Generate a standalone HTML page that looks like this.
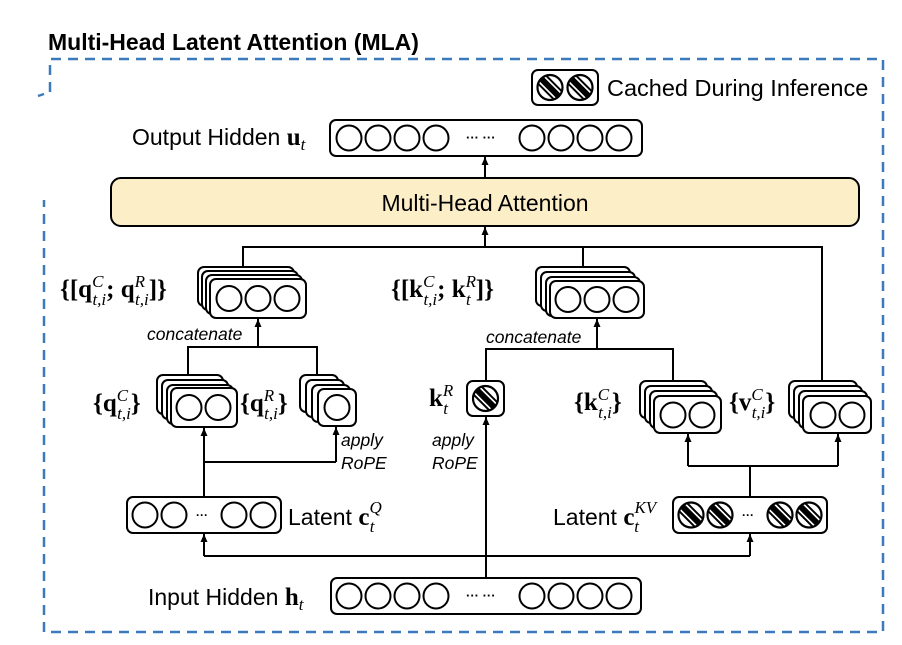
<!DOCTYPE html>
<html><head><meta charset="utf-8">
<style>
html,body{margin:0;padding:0;background:#fff;}
svg{display:block;}
.s{font-family:"Liberation Sans","DejaVu Sans",sans-serif;}
.m{font-family:"Liberation Serif","DejaVu Serif",serif;}
.b{font-weight:bold;}
.i{font-style:italic;}
</style></head><body>
<svg width="902" height="645" viewBox="0 0 902 645" xmlns="http://www.w3.org/2000/svg">
<defs>
  <marker id="ar" markerWidth="9" markerHeight="8" refX="8" refY="4" orient="auto" markerUnits="userSpaceOnUse">
    <path d="M0,0.5 L8,4 L0,7.5 Z" fill="#000"/>
  </marker>
  <clipPath id="cc"><circle cx="0" cy="0" r="12.5"/></clipPath>
  <g id="hc">
    <g clip-path="url(#cc)">
      <line x1="-14" y1="-14" x2="14" y2="14" stroke="#000" stroke-width="6"/>
      <line x1="-14" y1="-6" x2="6" y2="14" stroke="#000" stroke-width="2"/>
      <line x1="-6" y1="-14" x2="14" y2="6" stroke="#000" stroke-width="2"/>
    </g>
    <circle cx="0" cy="0" r="12.5" fill="none" stroke="#000" stroke-width="2.2"/>
  </g>
  <g id="oc"><circle cx="0" cy="0" r="12.5" fill="#fff" stroke="#000" stroke-width="2"/></g>
</defs>

<!-- title -->
<text x="48" y="50" class="s b" font-size="23" fill="#000">Multi-Head Latent Attention (MLA)</text>

<!-- dashed frame -->
<g stroke="#3a7abd" stroke-width="2.5" stroke-dasharray="10,7" fill="none">
  <path d="M50,92 L50,59 L883,59 L883,632 L44,632 L44,200"/>
</g>
<path d="M38,96 L44,94" stroke="#3a7abd" stroke-width="2.5"/>

<!-- cached legend -->
<rect x="532" y="70" width="66" height="35" rx="6" fill="#fff" stroke="#000" stroke-width="2"/>
<use href="#hc" x="550" y="87.5"/>
<use href="#hc" x="580" y="87.5"/>
<text x="607" y="96" class="s" font-size="23.5">Cached During Inference</text>

<!-- output hidden -->
<text x="132" y="145" class="s" font-size="23">Output Hidden <tspan class="m b" font-size="25">u</tspan><tspan class="m i" font-size="17" dy="5">t</tspan></text>
<rect x="330" y="120" width="312" height="36" rx="6" fill="#fff" stroke="#000" stroke-width="2"/>
<use href="#oc" x="349" y="138"/><use href="#oc" x="378" y="138"/><use href="#oc" x="407" y="138"/><use href="#oc" x="436" y="138"/>
<text x="466" y="142" class="s b" font-size="13">··· ···</text>
<use href="#oc" x="532" y="138"/><use href="#oc" x="561" y="138"/><use href="#oc" x="590" y="138"/><use href="#oc" x="619" y="138"/>
<line x1="485" y1="178" x2="485" y2="157" stroke="#000" stroke-width="2" marker-end="url(#ar)"/>

<!-- MHA -->
<rect x="111" y="178" width="748" height="48" rx="10" fill="#fcefc7" stroke="#000" stroke-width="2"/>
<text x="485" y="211" class="s" font-size="23" text-anchor="middle">Multi-Head Attention</text>
<line x1="485" y1="247" x2="485" y2="227" stroke="#000" stroke-width="2" marker-end="url(#ar)"/>
<path d="M243,267 L243,247 L822,247 L822,381" fill="none" stroke="#000" stroke-width="2"/>
<path d="M583,267 L583,247" stroke="#000" stroke-width="2"/>

<!-- Q concat stack -->
<g fill="#fff" stroke="#000" stroke-width="2">
  <rect x="198" y="267" width="96" height="39" rx="6"/>
  <rect x="202" y="271" width="96" height="39" rx="6"/>
  <rect x="206" y="275" width="96" height="39" rx="6"/>
  <rect x="210" y="279" width="96" height="39" rx="6"/>
</g>
<use href="#oc" x="229" y="298.5"/><use href="#oc" x="258" y="298.5"/><use href="#oc" x="287" y="298.5"/>
<text x="60" y="297" class="m b" font-size="25">{[q<tspan class="i" font-weight="normal" font-size="17" dy="-10">C</tspan><tspan class="i" font-weight="normal" font-size="17" dx="-11" dy="18">t,i</tspan><tspan dy="-8">; q</tspan><tspan class="i" font-weight="normal" font-size="17" dy="-10">R</tspan><tspan class="i" font-weight="normal" font-size="17" dx="-10" dy="18">t,i</tspan><tspan dy="-8">]}</tspan></text>

<!-- K concat stack -->
<g fill="#fff" stroke="#000" stroke-width="2">
  <rect x="536" y="267" width="94" height="39" rx="6"/>
  <rect x="541" y="272" width="94" height="39" rx="6"/>
  <rect x="546" y="277" width="94" height="39" rx="6"/>
  <rect x="550" y="281" width="94" height="37" rx="6"/>
</g>
<use href="#oc" x="568" y="299.5"/><use href="#oc" x="597" y="299.5"/><use href="#oc" x="626" y="299.5"/>
<text x="391" y="297" class="m b" font-size="25">{[k<tspan class="i" font-weight="normal" font-size="17" dy="-10">C</tspan><tspan class="i" font-weight="normal" font-size="17" dx="-11" dy="18">t,i</tspan><tspan dy="-8">; k</tspan><tspan class="i" font-weight="normal" font-size="17" dy="-10">R</tspan><tspan class="i" font-weight="normal" font-size="17" dx="-10" dy="18">t</tspan><tspan dx="5" dy="-8">]}</tspan></text>

<!-- concatenate left -->
<text x="147" y="340" class="s i" font-size="17.5">concatenate</text>
<path d="M188,375 L188,347 L317,347 L317,375" fill="none" stroke="#000" stroke-width="2"/>
<line x1="258" y1="347" x2="258" y2="319" stroke="#000" stroke-width="2" marker-end="url(#ar)"/>

<!-- concatenate right -->
<text x="486" y="343" class="s i" font-size="17.5">concatenate</text>
<path d="M486,381 L486,349 L673,349 L673,381" fill="none" stroke="#000" stroke-width="2"/>
<line x1="597" y1="349" x2="597" y2="319" stroke="#000" stroke-width="2" marker-end="url(#ar)"/>

<!-- qC stack -->
<g fill="#fff" stroke="#000" stroke-width="2">
  <rect x="157" y="375" width="66" height="39" rx="6"/>
  <rect x="162" y="380" width="66" height="39" rx="6"/>
  <rect x="167" y="385" width="66" height="39" rx="6"/>
  <rect x="171" y="388" width="66" height="39" rx="6"/>
</g>
<use href="#oc" x="189" y="407.5"/><use href="#oc" x="218" y="407.5"/>
<text x="93" y="411" class="m b" font-size="25">{q<tspan class="i" font-weight="normal" font-size="17" dy="-10">C</tspan><tspan class="i" font-weight="normal" font-size="17" dx="-11" dy="18">t,i</tspan><tspan dy="-8">}</tspan></text>

<!-- qR stack -->
<g fill="#fff" stroke="#000" stroke-width="2">
  <rect x="300" y="375" width="38" height="37" rx="6"/>
  <rect x="306" y="380" width="38" height="37" rx="6"/>
  <rect x="312" y="385" width="38" height="37" rx="6"/>
  <rect x="318" y="389" width="38" height="37" rx="6"/>
</g>
<use href="#oc" x="337" y="407.5"/>
<text x="240" y="411" class="m b" font-size="25">{q<tspan class="i" font-weight="normal" font-size="17" dy="-10">R</tspan><tspan class="i" font-weight="normal" font-size="17" dx="-10" dy="18">t,i</tspan><tspan dy="-8">}</tspan></text>

<path d="M204,497 L204,462 L336,462" fill="none" stroke="#000" stroke-width="2"/>
<line x1="204" y1="462" x2="204" y2="428" stroke="#000" stroke-width="2" marker-end="url(#ar)"/>
<line x1="336" y1="462" x2="336" y2="427" stroke="#000" stroke-width="2" marker-end="url(#ar)"/>
<text x="341" y="446" class="s i" font-size="17.5">apply</text>
<text x="341" y="469" class="s i" font-size="17.5">RoPE</text>

<!-- kR -->
<rect x="467" y="381" width="37" height="35" rx="6" fill="#fff" stroke="#000" stroke-width="2"/>
<use href="#hc" x="485.5" y="398.5"/>
<text x="429" y="406" class="m b" font-size="25">k<tspan class="i" font-weight="normal" font-size="17" dy="-10">R</tspan><tspan class="i" font-weight="normal" font-size="17" dx="-10" dy="18">t</tspan></text>
<text x="432" y="446" class="s i" font-size="17.5">apply</text>
<text x="432" y="469" class="s i" font-size="17.5">RoPE</text>
<line x1="486" y1="578" x2="486" y2="417" stroke="#000" stroke-width="2" marker-end="url(#ar)"/>

<!-- kC stack -->
<g fill="#fff" stroke="#000" stroke-width="2">
  <rect x="640" y="381" width="67" height="37" rx="6"/>
  <rect x="645" y="386" width="67" height="37" rx="6"/>
  <rect x="650" y="391" width="67" height="37" rx="6"/>
  <rect x="654" y="396" width="67" height="37" rx="6"/>
</g>
<use href="#oc" x="673" y="415"/><use href="#oc" x="702" y="415"/>
<text x="574" y="410" class="m b" font-size="25">{k<tspan class="i" font-weight="normal" font-size="17" dy="-10">C</tspan><tspan class="i" font-weight="normal" font-size="17" dx="-11" dy="18">t,i</tspan><tspan dy="-8">}</tspan></text>

<!-- vC stack -->
<g fill="#fff" stroke="#000" stroke-width="2">
  <rect x="789" y="381" width="68" height="37" rx="6"/>
  <rect x="794" y="386" width="68" height="37" rx="6"/>
  <rect x="799" y="391" width="68" height="37" rx="6"/>
  <rect x="803" y="396" width="68" height="37" rx="6"/>
</g>
<use href="#oc" x="823" y="415"/><use href="#oc" x="852" y="415"/>
<text x="729" y="410" class="m b" font-size="25">{v<tspan class="i" font-weight="normal" font-size="17" dy="-10">C</tspan><tspan class="i" font-weight="normal" font-size="17" dx="-11" dy="18">t,i</tspan><tspan dy="-8">}</tspan></text>

<path d="M750,497 L750,466 M688,466 L838,466" fill="none" stroke="#000" stroke-width="2"/>
<line x1="688" y1="466" x2="688" y2="434" stroke="#000" stroke-width="2" marker-end="url(#ar)"/>
<line x1="838" y1="466" x2="838" y2="434" stroke="#000" stroke-width="2" marker-end="url(#ar)"/>

<!-- latent Q -->
<rect x="127" y="497" width="154" height="36" rx="6" fill="#fff" stroke="#000" stroke-width="2"/>
<use href="#oc" x="145" y="515"/><use href="#oc" x="174" y="515"/>
<text x="196" y="519" class="s b" font-size="12">···</text>
<use href="#oc" x="234" y="515"/><use href="#oc" x="263" y="515"/>
<text x="288" y="525" class="s" font-size="23">Latent <tspan class="m b" font-size="25">c</tspan><tspan class="m i" font-size="17" dy="-12">Q</tspan><tspan class="m i" font-size="17" dx="-12" dy="19">t</tspan></text>

<!-- latent KV -->
<rect x="673" y="497" width="154" height="36" rx="6" fill="#fff" stroke="#000" stroke-width="2"/>
<use href="#hc" x="691" y="515"/><use href="#hc" x="720" y="515"/>
<text x="742" y="519" class="s b" font-size="12">···</text>
<use href="#hc" x="780" y="515"/><use href="#hc" x="809" y="515"/>
<text x="553" y="525" class="s" font-size="23">Latent <tspan class="m b" font-size="25">c</tspan><tspan class="m i" font-size="17" dy="-12">KV</tspan><tspan class="m i" font-size="17" dx="-22" dy="19">t</tspan></text>

<!-- bottom connectors -->
<path d="M204,556 L750,556" fill="none" stroke="#000" stroke-width="2"/>
<line x1="204" y1="556" x2="204" y2="534" stroke="#000" stroke-width="2" marker-end="url(#ar)"/>
<line x1="750" y1="556" x2="750" y2="534" stroke="#000" stroke-width="2" marker-end="url(#ar)"/>

<!-- input hidden -->
<text x="148" y="605" class="s" font-size="23">Input Hidden <tspan class="m b" font-size="25">h</tspan><tspan class="m i" font-size="17" dy="5">t</tspan></text>
<rect x="331" y="578" width="310" height="36" rx="6" fill="#fff" stroke="#000" stroke-width="2"/>
<use href="#oc" x="349" y="596"/><use href="#oc" x="378" y="596"/><use href="#oc" x="407" y="596"/><use href="#oc" x="436" y="596"/>
<text x="466" y="600" class="s b" font-size="13">··· ···</text>
<use href="#oc" x="532" y="596"/><use href="#oc" x="561" y="596"/><use href="#oc" x="590" y="596"/><use href="#oc" x="619" y="596"/>
</svg>
</body></html>
